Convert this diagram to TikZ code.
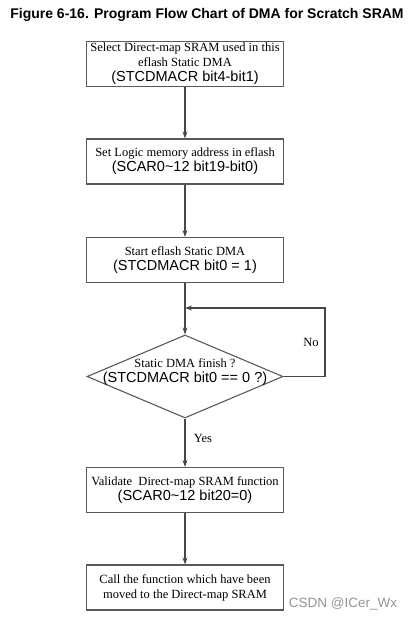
\documentclass[tikz,border=0pt]{standalone}
\usepackage{fontspec}
\setmainfont{Liberation Serif}
\newfontfamily\arialfont{Liberation Sans}
\usetikzlibrary{shapes.geometric,arrows.meta}

\begin{document}
\begin{tikzpicture}[x=1pt,y=-1pt,font=\fontsize{12.5}{15}\selectfont,>={Stealth[length=7pt,width=5pt]}]
	
	\tikzset{
		stepbox/.style={draw=black!65,line width=1.1pt,minimum width=197pt,minimum height=45pt,inner sep=0pt,align=center},
		decision/.style={diamond,draw=black!65,line width=1.1pt,minimum width=196pt,minimum height=83pt,inner sep=0pt},
		flow/.style={draw=black!72,line width=1.1pt,->},
	}
	
	% Macro: register line, set in the sans face
	\newcommand{\regline}[1]{{\fontsize{14.5}{15}\selectfont\arialfont #1}}
	
	\useasboundingbox (0,0) rectangle (414,622);
	
	%========================================
	% Title
	%========================================
	\node (title) at (207,15)
	{\fontsize{14}{16}\selectfont\arialfont\bfseries Figure 6-16. Program Flow Chart of DMA for Scratch SRAM};
	
	%========================================
	% Steps
	%========================================
	\node[stepbox] (sel) at (185,64)
	{Select Direct-map SRAM used in this\\eflash Static DMA\\\regline{(STCDMACR bit4-bit1)}};
	\node[stepbox] (addr) at (185,161.5)
	{Set Logic memory address in eflash\\\regline{(SCAR0\textasciitilde12 bit19-bit0)}};
	\node[stepbox] (start) at (185,260)
	{Start eflash Static DMA\\\regline{(STCDMACR bit0 = 1)}};
	
	% Check: is the static DMA done?
	\node[decision] (chk) at (185,376.5) {};
	\node[align=center] (chktxt) at (185,372)
	{Static DMA finish ?\\\regline{(STCDMACR bit0 == 0 ?)}};
	
	\node[stepbox] (valid) at (185,490)
	{Validate~~Direct-map SRAM function\\\regline{(SCAR0\textasciitilde12 bit20=0)}};
	\node[stepbox] (call) at (185,587.5)
	{Call the function which have been\\moved to the Direct-map SRAM};
	
	% Branch labels
	\node (no)  at (311,342) {No};
	\node (yes) at (203,438) {Yes};
	
	% Watermark
	\node[text=black!42] (wm) at (343,604)
	{\fontsize{13.5}{15}\selectfont\arialfont CSDN @ICer\_Wx};
	
	%========================================
	% Connectors
	%========================================
	\coordinate (loopin) at (185,308);
	\coordinate (loopcorner) at (325,308);
	
	\draw[flow] (sel) -- (addr);
	\draw[flow] (addr) -- (start);
	\draw[flow] (start) -- (chk);
	% not finished: go round again
	\draw[flow] (chk.east) -| (loopcorner) -- (loopin);
	% finished
	\draw[flow] (chk) -- (valid);
	\draw[flow] (valid) -- (call);
	
\end{tikzpicture}
\end{document}
